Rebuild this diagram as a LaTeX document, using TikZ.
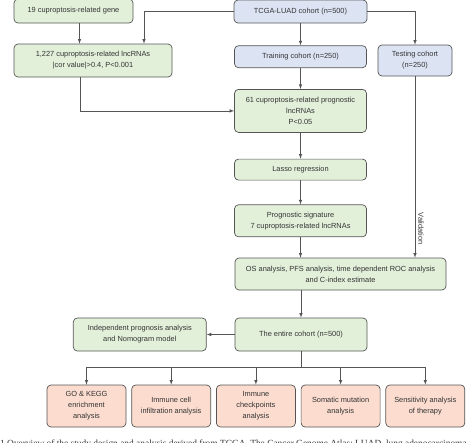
\documentclass[tikz,border=0pt]{standalone}
\usepackage{fontspec}
\setmainfont{Liberation Serif}
\setsansfont{Liberation Sans}
\usepackage{tikz}
\usetikzlibrary{arrows,positioning}

\definecolor{boxgreen}{HTML}{E2F0DA}
\definecolor{boxblue}{HTML}{DCE4F4}
\definecolor{boxred}{HTML}{FBDCCF}
\definecolor{edgegray}{HTML}{555555}
\definecolor{textgray}{HTML}{333333}

\tikzset{
  flowbox/.style={draw=edgegray, line width=0.7pt, rounded corners=4pt, align=center,
                  inner sep=1pt, text=textgray, font=\sffamily\fontsize{7.4}{11}\selectfont},
  greenbox/.style={flowbox, fill=boxgreen},
  bluebox/.style={flowbox, fill=boxblue},
  redbox/.style={flowbox, fill=boxred, minimum width=79pt, minimum height=42pt},
  link/.style={->, >=latex, draw=edgegray, line width=0.6pt}
}

\begin{document}
\begin{tikzpicture}[x=1pt, y=-1pt]

  \useasboundingbox (0,0) rectangle (474,442);

  \node[greenbox, minimum width=119pt, minimum height=24pt] (gene) at (73.5,11)   {19 cuproptosis-related gene};
  \node[bluebox,  minimum width=133pt, minimum height=23pt] (tcga) at (300.5,11.5) {TCGA-LUAD cohort (n=500)};
  \node[greenbox, minimum width=158pt, minimum height=33pt] (lnc)  at (93,60.5)   {1,227 cuproptosis-related lncRNAs\\|cor value|>0.4, P<0.001};
  \node[bluebox,  minimum width=132pt, minimum height=22pt] (train) [below=22pt of tcga] {Training cohort (n=250)};
  \node[bluebox,  minimum width=74pt,  minimum height=31pt] (test) at (415,60.5)  {Testing cohort\\(n=250)};
  \node[greenbox, minimum width=132pt, minimum height=43pt] (prog)  [below=21pt of train] {61 cuproptosis-related prognostic\\lncRNAs\\P<0.05};
  \node[greenbox, minimum width=132pt, minimum height=21pt] (lasso) [below=26pt of prog]  {Lasso regression};
  \node[greenbox, minimum width=132pt, minimum height=32pt] (sig)   [below=24pt of lasso] {Prognostic signature\\7 cuproptosis-related lncRNAs};
  \node[greenbox, minimum width=211pt, minimum height=32pt] (os)    at (340.5,274) {OS analysis, PFS analysis, time dependent ROC analysis\\and C-index estimate};
  \node[greenbox, minimum width=132pt, minimum height=33pt] (whole) at (301,334.5) {The entire cohort (n=500)};
  \node[greenbox, minimum width=133pt, minimum height=33pt] (indep) [left=28pt of whole] {Independent prognosis analysis\\and Nomogram model};

  \node[redbox] (go)     at (86.5,406)      {GO \& KEGG\\enrichment\\analysis};
  \node[redbox] (immune) [right=5pt of go]     {Immune cell\\infiltration analysis};
  \node[redbox] (check)  [right=5pt of immune] {Immune\\checkpoints\\analysis};
  \node[redbox] (somat)  [right=5pt of check]  {Somatic mutation\\analysis};
  \node[redbox] (sens)   [right=5pt of somat]  {Sensitivity analysis\\of therapy};

  \draw[link] ([xshift=6pt]gene.south) -- ([xshift=6pt]gene.south |- lnc.north);
  \draw[link] (tcga.west) -| ([xshift=51pt]lnc.north);
  \draw[link] (tcga.east) -| (test.north);
  \draw[link] (tcga.south) -- (train.north);
  \draw[link] (train) -- (prog);
  \draw[link] ([xshift=-13pt]lnc.south) |- (prog.west);
  \draw[link] (prog) -- (lasso);
  \draw[link] (lasso) -- (sig);
  \draw[link] (sig.south) -- (sig.south |- os.north);
  \draw[link] (test.south) -- (test.south |- os.north)
    node[pos=0.84, rotate=-90, anchor=south, inner sep=3pt, text=textgray,
         font=\sffamily\fontsize{7.4}{9}\selectfont] {Validation};
  \draw[link] (os.south -| whole.north) -- (whole.north);
  \draw[link] (whole.west) -- (indep.east);
  \foreach \b in {go,immune,check,somat,sens}
    \draw[link] (whole.south) -- ++(0,15.5) -| (\b.north);

  % caption, cut off by the page edge
  \begin{scope}
    \clip (0,0) rectangle (474,442);
    \node[anchor=base west, inner sep=0pt, text=textgray, font=\fontsize{9.4}{11}\selectfont]
      (caption) at (0,446) {1 Overview of the study design and analysis derived from TCGA. The Cancer Genome Atlas; LUAD, lung adenocarcinoma};
  \end{scope}

\end{tikzpicture}
\end{document}
